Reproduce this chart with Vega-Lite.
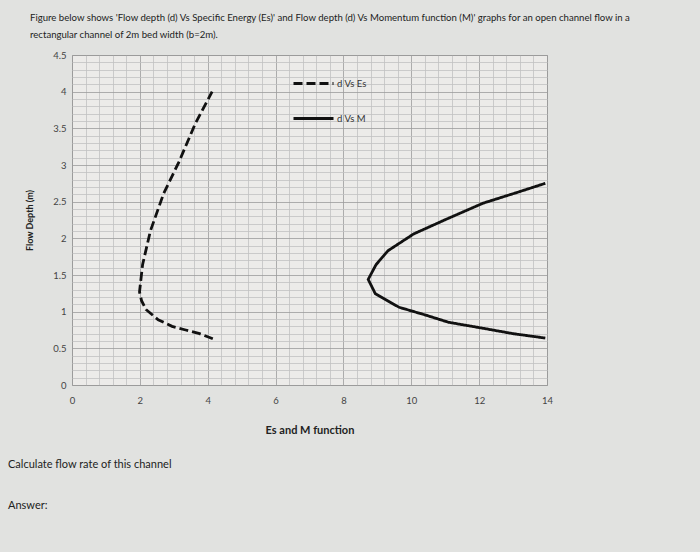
{
  "$schema": "https://vega.github.io/schema/vega-lite/v6.json",
  "background": "#e1e2e0",
  "padding": {"left": 7, "top": 12, "right": 110, "bottom": 60},
  "config": {"font": "Lato", "view": {"stroke": "#9a9a9a", "fill": "#ecebe9"}},
  "title": {
    "text": ["Figure  below shows  'Flow depth (d) Vs Specific Energy (Es)' and Flow depth (d) Vs Momentum function (M)' graphs for an open channel flow in a", "rectangular channel of 2m bed width (b=2m)."],
    "anchor": "start", "frame": "group", "dx": -42, "fontSize": 9.6, "fontWeight": "normal", "color": "#222", "lineHeight": 17, "offset": 10
  },
  "vconcat": [
    {
      "width": 475,
      "height": 330,
      "title": {
        "text": ["Calculate flow rate of this channel", "Answer:"],
        "orient": "bottom", "anchor": "start", "frame": "group", "dx": -64, "offset": 23,
        "fontSize": 11, "fontWeight": "normal", "color": "#222", "lineHeight": 41
      },
      "data": {"values": [
        {"series": "d Vs Es", "d": 4.0, "E": 4.13},
        {"series": "d Vs Es", "d": 3.57, "E": 3.64},
        {"series": "d Vs Es", "d": 3.04, "E": 3.15},
        {"series": "d Vs Es", "d": 2.61, "E": 2.70},
        {"series": "d Vs Es", "d": 2.10, "E": 2.31},
        {"series": "d Vs Es", "d": 1.64, "E": 2.08},
        {"series": "d Vs Es", "d": 1.27, "E": 1.99},
        {"series": "d Vs Es", "d": 1.15, "E": 2.05},
        {"series": "d Vs Es", "d": 1.03, "E": 2.18},
        {"series": "d Vs Es", "d": 0.89, "E": 2.54},
        {"series": "d Vs Es", "d": 0.80, "E": 2.95},
        {"series": "d Vs Es", "d": 0.75, "E": 3.35},
        {"series": "d Vs Es", "d": 0.70, "E": 3.76},
        {"series": "d Vs Es", "d": 0.63, "E": 4.15},
        {"series": "d Vs M", "d": 2.75, "E": 13.95},
        {"series": "d Vs M", "d": 2.62, "E": 13.08},
        {"series": "d Vs M", "d": 2.48, "E": 12.12},
        {"series": "d Vs M", "d": 2.26, "E": 11.03},
        {"series": "d Vs M", "d": 2.06, "E": 10.07},
        {"series": "d Vs M", "d": 1.83, "E": 9.31},
        {"series": "d Vs M", "d": 1.64, "E": 8.96},
        {"series": "d Vs M", "d": 1.44, "E": 8.73},
        {"series": "d Vs M", "d": 1.245, "E": 8.94},
        {"series": "d Vs M", "d": 1.06, "E": 9.64},
        {"series": "d Vs M", "d": 0.954, "E": 10.42},
        {"series": "d Vs M", "d": 0.855, "E": 11.1},
        {"series": "d Vs M", "d": 0.778, "E": 12.06},
        {"series": "d Vs M", "d": 0.70, "E": 13.0},
        {"series": "d Vs M", "d": 0.64, "E": 13.95}
      ]},
      "mark": {"type": "line", "color": "#111", "strokeWidth": 2.8},
      "encoding": {
        "x": {
          "field": "E", "type": "quantitative",
          "scale": {"domain": [0, 14], "nice": false, "zero": true},
          "axis": {
            "title": "Es and M function",
            "values": [0,0.4,0.8,1.2,1.6,2,2.4,2.8,3.2,3.6,4,4.4,4.8,5.2,5.6,6,6.4,6.8,7.2,7.6,8,8.4,8.8,9.2,9.6,10,10.4,10.8,11.2,11.6,12,12.4,12.8,13.2,13.6,14],
            "format": ".1~f",
            "labelExpr": "abs(datum.value/2 - round(datum.value/2)) < 0.01 ? datum.label : ''",
            "labelOverlap": false, "labelFlush": false, "labelBound": false,
            "ticks": false, "domain": false,
            "gridColor": {"condition": {"test": "abs(datum.value/2 - round(datum.value/2)) < 0.01", "value": "#9c9c9c"}, "value": "#c2c2c2"},
            "gridWidth": 0.8, "gridOpacity": 1,
            "labelFontSize": 9.5, "labelColor": "#444", "labelPadding": 10,
            "titleFontSize": 11, "titleFontWeight": "bold", "titleColor": "#222", "titlePadding": 20
          }
        },
        "y": {
          "field": "d", "type": "quantitative",
          "scale": {"domain": [0, 4.5], "nice": false, "zero": true},
          "axis": {
            "title": "Flow Depth (m)",
            "values": [0,0.1,0.2,0.3,0.4,0.5,0.6,0.7,0.8,0.9,1,1.1,1.2,1.3,1.4,1.5,1.6,1.7,1.8,1.9,2,2.1,2.2,2.3,2.4,2.5,2.6,2.7,2.8,2.9,3,3.1,3.2,3.3,3.4,3.5,3.6,3.7,3.8,3.9,4,4.1,4.2,4.3,4.4,4.5],
            "format": ".1~f",
            "labelExpr": "abs(datum.value*2 - round(datum.value*2)) < 0.01 ? datum.label : ''",
            "labelOverlap": false, "labelFlush": false, "labelBound": false,
            "ticks": false, "domain": false,
            "gridColor": {"condition": {"test": "abs(datum.value*2 - round(datum.value*2)) < 0.01", "value": "#9c9c9c"}, "value": "#c2c2c2"},
            "gridWidth": 0.8, "gridOpacity": 1,
            "labelFontSize": 9.5, "labelColor": "#444", "labelPadding": 6,
            "titleFontSize": 9, "titleFontWeight": "bold", "titleColor": "#222", "titlePadding": 18
          }
        },
        "strokeDash": {
          "field": "series", "type": "nominal",
          "scale": {"domain": ["d Vs Es", "d Vs M"], "range": [[9, 4], [1, 0]]},
          "legend": {
            "title": null, "orient": "none", "legendX": 220, "legendY": 7,
            "symbolType": "stroke", "symbolSize": 1600, "symbolStrokeWidth": 2.8, "symbolStrokeColor": "#111",
            "labelFontSize": 9.5, "labelColor": "#333", "rowPadding": 7, "labelOffset": 2
          }
        },
        "order": {"field": "d", "type": "quantitative"}
      }
    }
  ]
}
